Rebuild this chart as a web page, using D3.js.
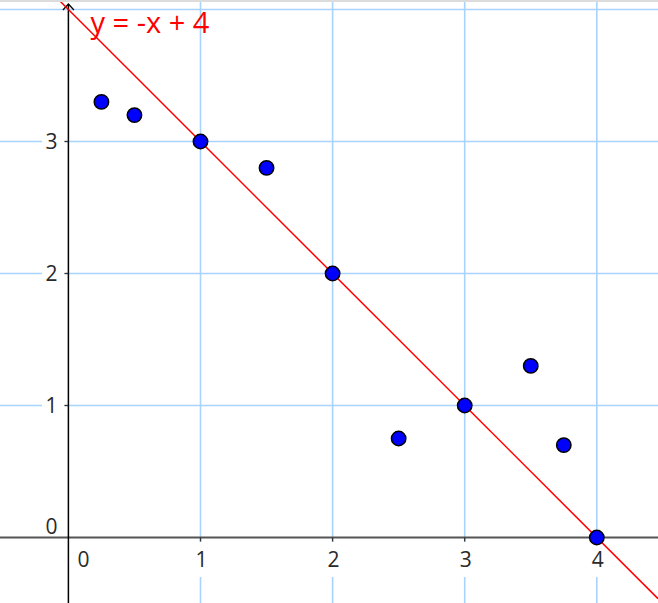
<!DOCTYPE html>
<html><head><meta charset="utf-8">
<script src="https://cdn.jsdelivr.net/npm/d3@7"></script>
<style>html,body{margin:0;padding:0;background:#fff;overflow:hidden}</style>
</head><body>
<svg id="c" width="658" height="603"></svg>
<script>
const xs = [0.25, 0.5, 1, 1.5, 2, 2.5, 3, 3.5, 3.75, 4];
const ys = [3.3, 3.2, 3, 2.8, 2, 0.75, 1, 1.3, 0.7, 0];
const xTicks = [0, 1, 2, 3, 4];
const yTicks = [0, 1, 2, 3];
const gridX = [1, 2, 3, 4];
const gridY = [1, 2, 3, 4];
const lineSlope = -1, lineIntercept = 4;
const lineLabel = "y = -x + 4";

const W = 658, H = 603;
const svg = d3.select("#c");
const x = d3.scaleLinear().domain([0, 4]).range([68.4, 596.8]);
const y = d3.scaleLinear().domain([0, 4]).range([537.5, 9.5]);
const FONT = "'Open Sans', Roboto, sans-serif";

const grid = svg.append("g").attr("stroke", "#a9d3ff").attr("stroke-width", 1.6);
grid.selectAll("line.v").data(gridX).join("line").attr("class","v")
  .attr("x1", d => x(d)).attr("x2", d => x(d)).attr("y1", 0).attr("y2", H);
grid.selectAll("line.h").data(gridY).join("line").attr("class","h")
  .attr("x1", 0).attr("x2", W).attr("y1", d => y(d)).attr("y2", d => y(d));

// label backgrounds
const bg = svg.append("g").attr("fill", "#fff");
bg.selectAll("rect.x").data(xTicks.filter(d => d !== 0)).join("rect").attr("class","x")
  .attr("x", d => x(d) - 10).attr("width", 20).attr("y", 542).attr("height", 35);
bg.selectAll("rect.y").data(yTicks.filter(d => d !== 0)).join("rect").attr("class","y")
  .attr("x", 42).attr("width", 24).attr("y", d => y(d) - 12).attr("height", 24);

// axes
svg.append("line").attr("x1", 0).attr("x2", W).attr("y1", y(0)).attr("y2", y(0))
  .attr("stroke", "#555").attr("stroke-width", 2);
svg.append("line").attr("x1", x(0)).attr("x2", x(0)).attr("y1", 4).attr("y2", H)
  .attr("stroke", "#000").attr("stroke-width", 1.5);
svg.append("path").attr("d", `M${x(0)-5.5},10 L${x(0)},4 L${x(0)+5.5},10`)
  .attr("fill", "none").attr("stroke", "#000").attr("stroke-width", 1.3);

// ticks
svg.append("g").selectAll("line").data(xTicks.filter(d => d !== 0)).join("line")
  .attr("x1", d => x(d)).attr("x2", d => x(d)).attr("y1", y(0)).attr("y2", y(0) + 4)
  .attr("stroke", "#333").attr("stroke-width", 1.3);
svg.append("g").selectAll("line").data(yTicks.filter(d => d !== 0)).join("line")
  .attr("x1", x(0) - 4).attr("x2", x(0)).attr("y1", d => y(d)).attr("y2", d => y(d))
  .attr("stroke", "#333").attr("stroke-width", 1.3);

// tick labels
const tl = svg.append("g").attr("font-family", FONT)
  .attr("font-size", 21).attr("fill", "#2a2a2a");
tl.selectAll("text.x").data(xTicks).join("text").attr("class","x")
  .attr("x", d => d === 0 ? x(d) + 15 : x(d) + 1).attr("y", 567)
  .attr("text-anchor", "middle").text(d => d);
tl.selectAll("text.y").data(yTicks).join("text").attr("class","y")
  .attr("x", 57.5).attr("y", d => d === 0 ? 534 : y(d) + 7.5)
  .attr("text-anchor", "end").text(d => d);

// red line
const xa = (y.invert(0) - lineIntercept) / lineSlope;
const xb = x.invert(W);
svg.append("line")
  .attr("x1", x(xa)).attr("y1", y(lineSlope * xa + lineIntercept))
  .attr("x2", x(xb)).attr("y2", y(lineSlope * xb + lineIntercept))
  .attr("stroke", "#ff0000").attr("stroke-width", 1.5);

svg.append("text").attr("x", 90.5).attr("y", 32.5)
  .attr("font-family", FONT).attr("font-size", 29)
  .attr("fill", "#ff0000")
  .text(lineLabel);

// points
svg.append("g").selectAll("circle").data(xs.map((v, i) => [v, ys[i]])).join("circle")
  .attr("cx", d => x(d[0])).attr("cy", d => y(d[1])).attr("r", 7.2)
  .attr("fill", "#0000ff").attr("stroke", "#000").attr("stroke-width", 1.5);

// top strip
svg.append("rect").attr("x", 0).attr("y", 0).attr("width", W).attr("height", 2).attr("fill", "#dcdcdc");
</script>
</body></html>
